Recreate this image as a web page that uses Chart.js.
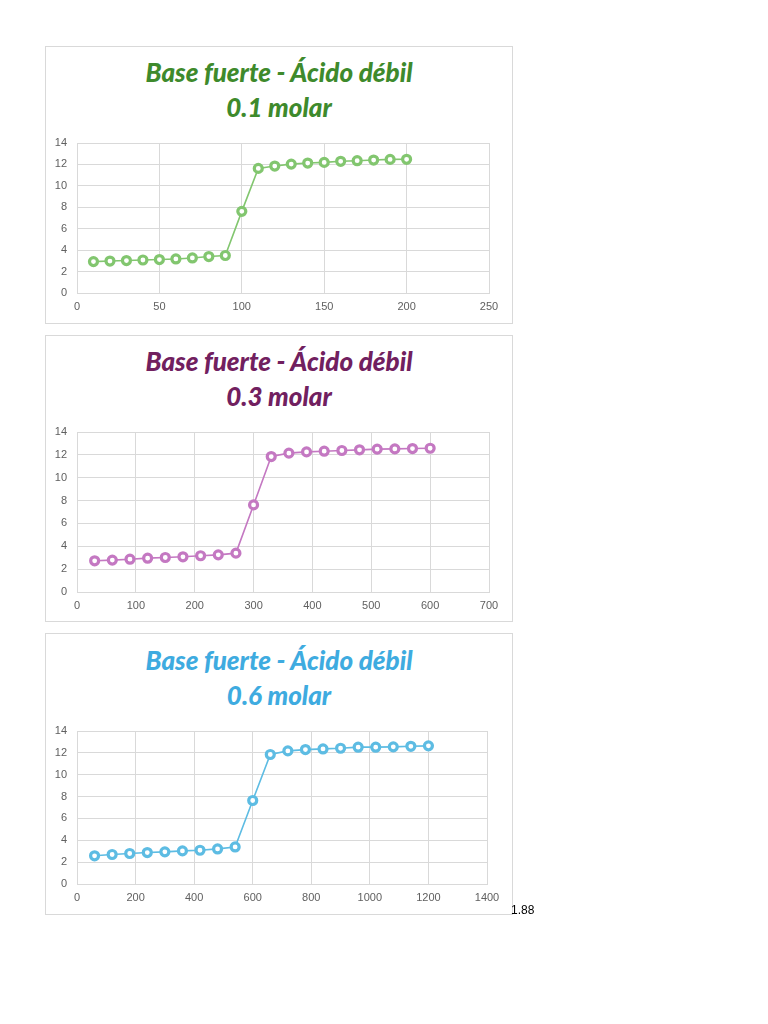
<!DOCTYPE html>
<html>
<head>
<meta charset="utf-8">
<script src="https://cdn.jsdelivr.net/npm/chart.js@4.4.1/dist/chart.umd.min.js"></script>
<style>
  body { margin: 0; background: #fff; width: 768px; height: 1024px; position: relative; font-family: "Liberation Sans", Arial, sans-serif; }
  .box { position: absolute; left: 45px; width: 468px; border: 1px solid #d9d9d9; box-sizing: border-box; background: #fff; }
  .box canvas { position: absolute; left: 0; top: 0; }
  .title { position: absolute; left: 0; width: 100%; text-align: center; font-family: Lato, "DejaVu Sans", sans-serif; font-weight: 900; font-style: italic; font-size: 26px; line-height: 35px; }
  #note { position: absolute; left: 511px; top: 903px; font-size: 12px; color: #000; }
</style>
</head>
<body>
<div class="box" id="box1" style="top:46px;height:278px;">
  <div class="title" style="top:8px;color:#3e8a2c;">Base fuerte - Ácido débil<br>0.1 molar</div>
  <canvas id="c1"></canvas>
</div>
<div class="box" id="box2" style="top:335px;height:287px;">
  <div class="title" style="top:8px;color:#71205f;">Base fuerte - Ácido débil<br>0.3 molar</div>
  <canvas id="c2"></canvas>
</div>
<div class="box" id="box3" style="top:633px;height:282px;">
  <div class="title" style="top:9px;color:#3eabe0;">Base fuerte - Ácido débil<br>0.6 molar</div>
  <canvas id="c3"></canvas>
</div>
<div id="note">1.88</div>
<script>
const vol01 = [10, 20, 30, 40, 50, 60, 70, 80, 90, 100, 110, 120, 130, 140, 150, 160, 170, 180, 190, 200];
const ph01 = [2.93, 2.98, 3.03, 3.08, 3.12, 3.18, 3.27, 3.4, 3.5, 7.62, 11.63, 11.85, 12.03, 12.13, 12.19, 12.29, 12.35, 12.41, 12.47, 12.48];

const vol03 = [30, 60, 90, 120, 150, 180, 210, 240, 270, 300, 330, 360, 390, 420, 450, 480, 510, 540, 570, 600];
const ph03 = [2.73, 2.79, 2.87, 2.96, 3.02, 3.08, 3.17, 3.25, 3.4, 7.62, 11.85, 12.15, 12.26, 12.32, 12.38, 12.44, 12.5, 12.52, 12.55, 12.58];

const vol06 = [60, 120, 180, 240, 300, 360, 420, 480, 540, 600, 660, 720, 780, 840, 900, 960, 1020, 1080, 1140, 1200];
const ph06 = [2.58, 2.7, 2.79, 2.88, 2.94, 3.03, 3.09, 3.21, 3.39, 7.64, 11.85, 12.18, 12.3, 12.36, 12.42, 12.52, 12.52, 12.55, 12.6, 12.64];

const xMax = [250, 700, 1400];
const xStep = [50, 100, 200];
const yTicks = [0, 2, 4, 6, 8, 10, 12, 14];

const gridColor = "#d9d9d9";
const tickColor = "#606060";

// dibuja una curva; top/bottom son los márgenes del área del gráfico dentro del lienzo
function makeChart(id, w, h, xs, ys, color, max, step, top, bottom, right) {
  const canvas = document.getElementById(id);
  canvas.width = w;
  canvas.height = h;
  canvas.style.width = w + "px";
  canvas.style.height = h + "px";
  const pts = xs.map((x, i) => ({ x: x, y: ys[i] }));
  return new Chart(canvas, {
    type: "line",
    data: {
      datasets: [{
        data: pts,
        borderColor: color,
        backgroundColor: "#ffffff",
        borderWidth: 1.6,
        pointRadius: 4,
        pointBorderWidth: 3.2,
        pointBorderColor: color,
        pointBackgroundColor: "#ffffff",
        tension: 0
      }]
    },
    options: {
      responsive: false,
      animation: false,
      layout: { padding: { top: top, right: right, left: 0, bottom: 0 } },
      plugins: { legend: { display: false }, tooltip: { enabled: false } },
      scales: {
        x: {
          type: "linear",
          min: 0,
          max: max,
          ticks: { stepSize: step, color: tickColor, padding: 7, font: { family: "Liberation Sans", size: 11 }, maxRotation: 0, callback: (v) => String(v) },
          grid: { color: gridColor, drawTicks: false },
          border: { color: gridColor },
          afterFit: (s) => { s.height = bottom; }
        },
        y: {
          min: 0,
          max: 14,
          afterBuildTicks: (s) => { s.ticks = yTicks.map(v => ({ value: v })); },
          ticks: { color: tickColor, padding: 10, font: { family: "Liberation Sans", size: 11 }, callback: (v) => String(v) },
          grid: { color: gridColor, drawTicks: false },
          border: { color: gridColor },
          afterFit: (s) => { s.width = 31; }
        }
      }
    }
  });
}

makeChart("c1", 466, 276, vol01, ph01, "#82c66f", xMax[0], xStep[0], 96, 30, 23);
makeChart("c2", 466, 285, vol03, ph03, "#c478c2", xMax[1], xStep[1], 96, 29, 23);
makeChart("c3", 466, 280, vol06, ph06, "#5dbce3", xMax[2], xStep[2], 97, 30, 25);
</script>
</body>
</html>
